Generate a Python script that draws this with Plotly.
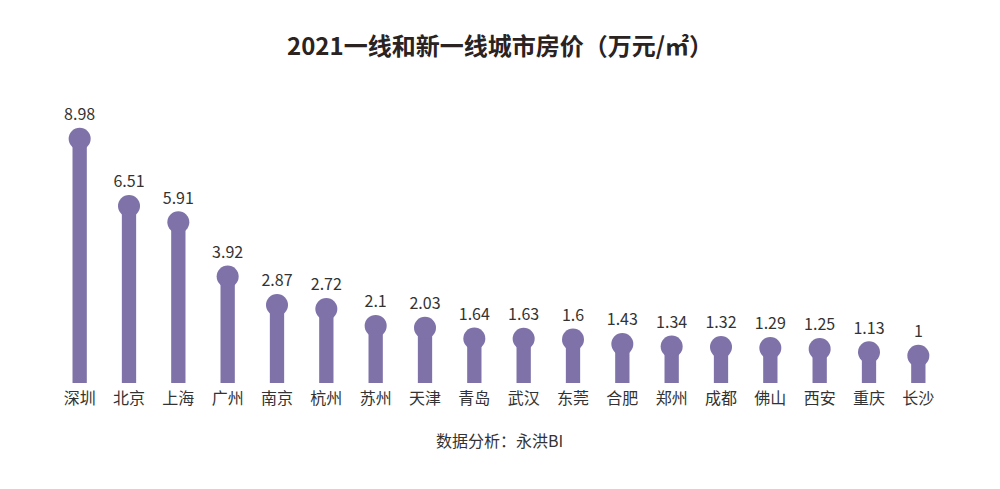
import plotly.graph_objects as go

cities = ["深圳", "北京", "上海", "广州", "南京", "杭州", "苏州", "天津", "青岛",
          "武汉", "东莞", "合肥", "郑州", "成都", "佛山", "西安", "重庆", "长沙"]
prices = [8.98, 6.51, 5.91, 3.92, 2.87, 2.72, 2.1, 2.03, 1.64,
          1.63, 1.6, 1.43, 1.34, 1.32, 1.29, 1.25, 1.13, 1]
labels = ["8.98", "6.51", "5.91", "3.92", "2.87", "2.72", "2.1", "2.03", "1.64",
          "1.63", "1.6", "1.43", "1.34", "1.32", "1.29", "1.25", "1.13", "1"]

color = "#7f72a9"
font = "Noto Sans CJK SC"

fig = go.Figure()
fig.add_trace(go.Bar(x=cities, y=prices, width=0.29, marker=dict(color=color, line=dict(width=0)),
                     hoverinfo="skip"))
fig.add_trace(go.Scatter(x=cities, y=prices, mode="markers+text",
                         marker=dict(size=22, color=color),
                         text=labels, textposition="top center",
                         textfont=dict(family=font, size=16, color="#333333"),
                         cliponaxis=False))

fig.update_layout(
    width=1000, height=489,
    margin=dict(l=55, r=57, t=110, b=106),
    paper_bgcolor="white", plot_bgcolor="white",
    showlegend=False,
    font=dict(family=font),
    title=dict(text="<b>2021一线和新一线城市房价（万元/㎡）</b>", x=0.5, xanchor="center",
               y=1 - 47 / 489, yanchor="middle", font=dict(family=font, size=24, color="#2b2222")),
    xaxis=dict(range=[-0.5, 17.5], showgrid=False, zeroline=False, showline=False,
               ticks="outside", ticklen=1, tickcolor="rgba(0,0,0,0)",
               tickfont=dict(family=font, size=16, color="#333333")),
    yaxis=dict(range=[0, 10.04], visible=False),
    annotations=[dict(text="数据分析：永洪BI", x=0.5, xref="paper", xanchor="center",
                      y=-(440 - 383) / (489 - 110 - 106), yref="paper", yanchor="middle",
                      showarrow=False,
                      font=dict(family=font, size=16, color="#333333"))],
)
fig.write_html("out.html")
